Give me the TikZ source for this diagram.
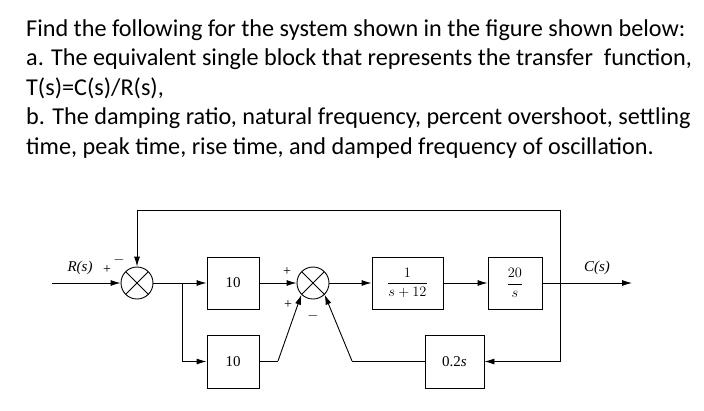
\documentclass[tikz,border=0pt]{standalone}
\usepackage{fontspec}
\setmainfont{Carlito}
\newfontfamily\tms{Liberation Serif}
\usetikzlibrary{arrows.meta}
\begin{document}
\begin{tikzpicture}[x=1pt,y=-1pt,
  blk/.style={draw,line width=0.9pt,inner sep=0pt,font=\tms\fontsize{15}{17}\selectfont},
  sj/.style={draw,circle,line width=0.9pt,minimum size=32pt,inner sep=0pt,path picture={\draw[line width=0.9pt] (path picture bounding box.north west)--(path picture bounding box.south east) (path picture bounding box.north east)--(path picture bounding box.south west);}},
  ar/.style={-{Latex[length=10pt,width=6pt]},line width=0.9pt},
  ln/.style={line width=0.9pt},
  txt/.style={anchor=base west,inner sep=0pt,font=\fontsize{24.2}{27}\selectfont},
  sg/.style={font=\tms\fontsize{14}{14}\selectfont,inner sep=0pt},
  lb/.style={font=\tms\itshape\fontsize{15}{17}\selectfont,inner sep=0pt}]
\useasboundingbox (0,0) rectangle (704,410);
\node[txt] (t1) at (26,36) {Find the following for the system shown in the figure shown below:};
\node[txt] (t2) at (26,65) {a. The equivalent single block that represents the transfer\ \ function,};
\node[txt] (t3) at (26,95) {T(s)=C(s)/R(s),};
\node[txt] (t4) at (26,124) {b. The damping ratio, natural frequency, percent overshoot, settling};
\node[txt] (t5) at (26,154) {time, peak time, rise time, and damped frequency of oscillation.};
% blocks
\node[sj] (s1) at (137,283) {};
\node[sj] (s2) at (313,283) {};
\node[blk,minimum width=52pt,minimum height=52pt] (b1) at (233,283) {10};
\node[blk,minimum width=52pt,minimum height=53pt] (b2) at (233,361.5) {10};
\node[blk,minimum width=71pt,minimum height=52pt] (b3) at (407.5,283) {$\displaystyle\frac{1}{s+12}$};
\node[blk,minimum width=54pt,minimum height=52pt] (b4) at (515,283) {$\displaystyle\frac{20}{s}$};
\node[blk,minimum width=59pt,minimum height=53pt] (b5) at (454.5,361.5) {0.2\textit{s}};
\coordinate (in) at (52,283);
\coordinate (out) at (632,283);
\coordinate (br) at (182,283);
\coordinate (rt) at (560,283);
\coordinate (p1) at (278,361);
\coordinate (p2) at (352,361);
\draw[ar] (in) -- (s1);
\draw[ln] (s1) -- (br);
\draw[ar] (br) -- (b1);
\draw[ar] (br) |- (b2);
\draw[ar] (b1) -- (s2);
\draw[ar] (s2) -- (b3);
\draw[ar] (b3) -- (b4);
\draw[ar] (b4) -- (out);
\draw[ar] (rt) |- (137,210) -- (s1);
\draw[ar] (rt) |- (b5);
\draw[ln] (b2.east |- p1) -- (p1);
\draw[ar] (p1) -- (s2.south west);
\draw[ln] (b5.west |- p2) -- (p2);
\draw[ar] (p2) -- (s2.south east);
\node[lb] (R) at (80,268) {R(s)};
\node[lb] (C) at (597,268) {C(s)};
\node[sg] (g1) at (107,270) {+};
\node[sg] (g2) at (119,260) {$-$};
\node[sg] (g3) at (287,272) {+};
\node[sg] (g4) at (288,305) {+};
\node[sg] (g5) at (313,316) {$-$};
\end{tikzpicture}
\end{document}
